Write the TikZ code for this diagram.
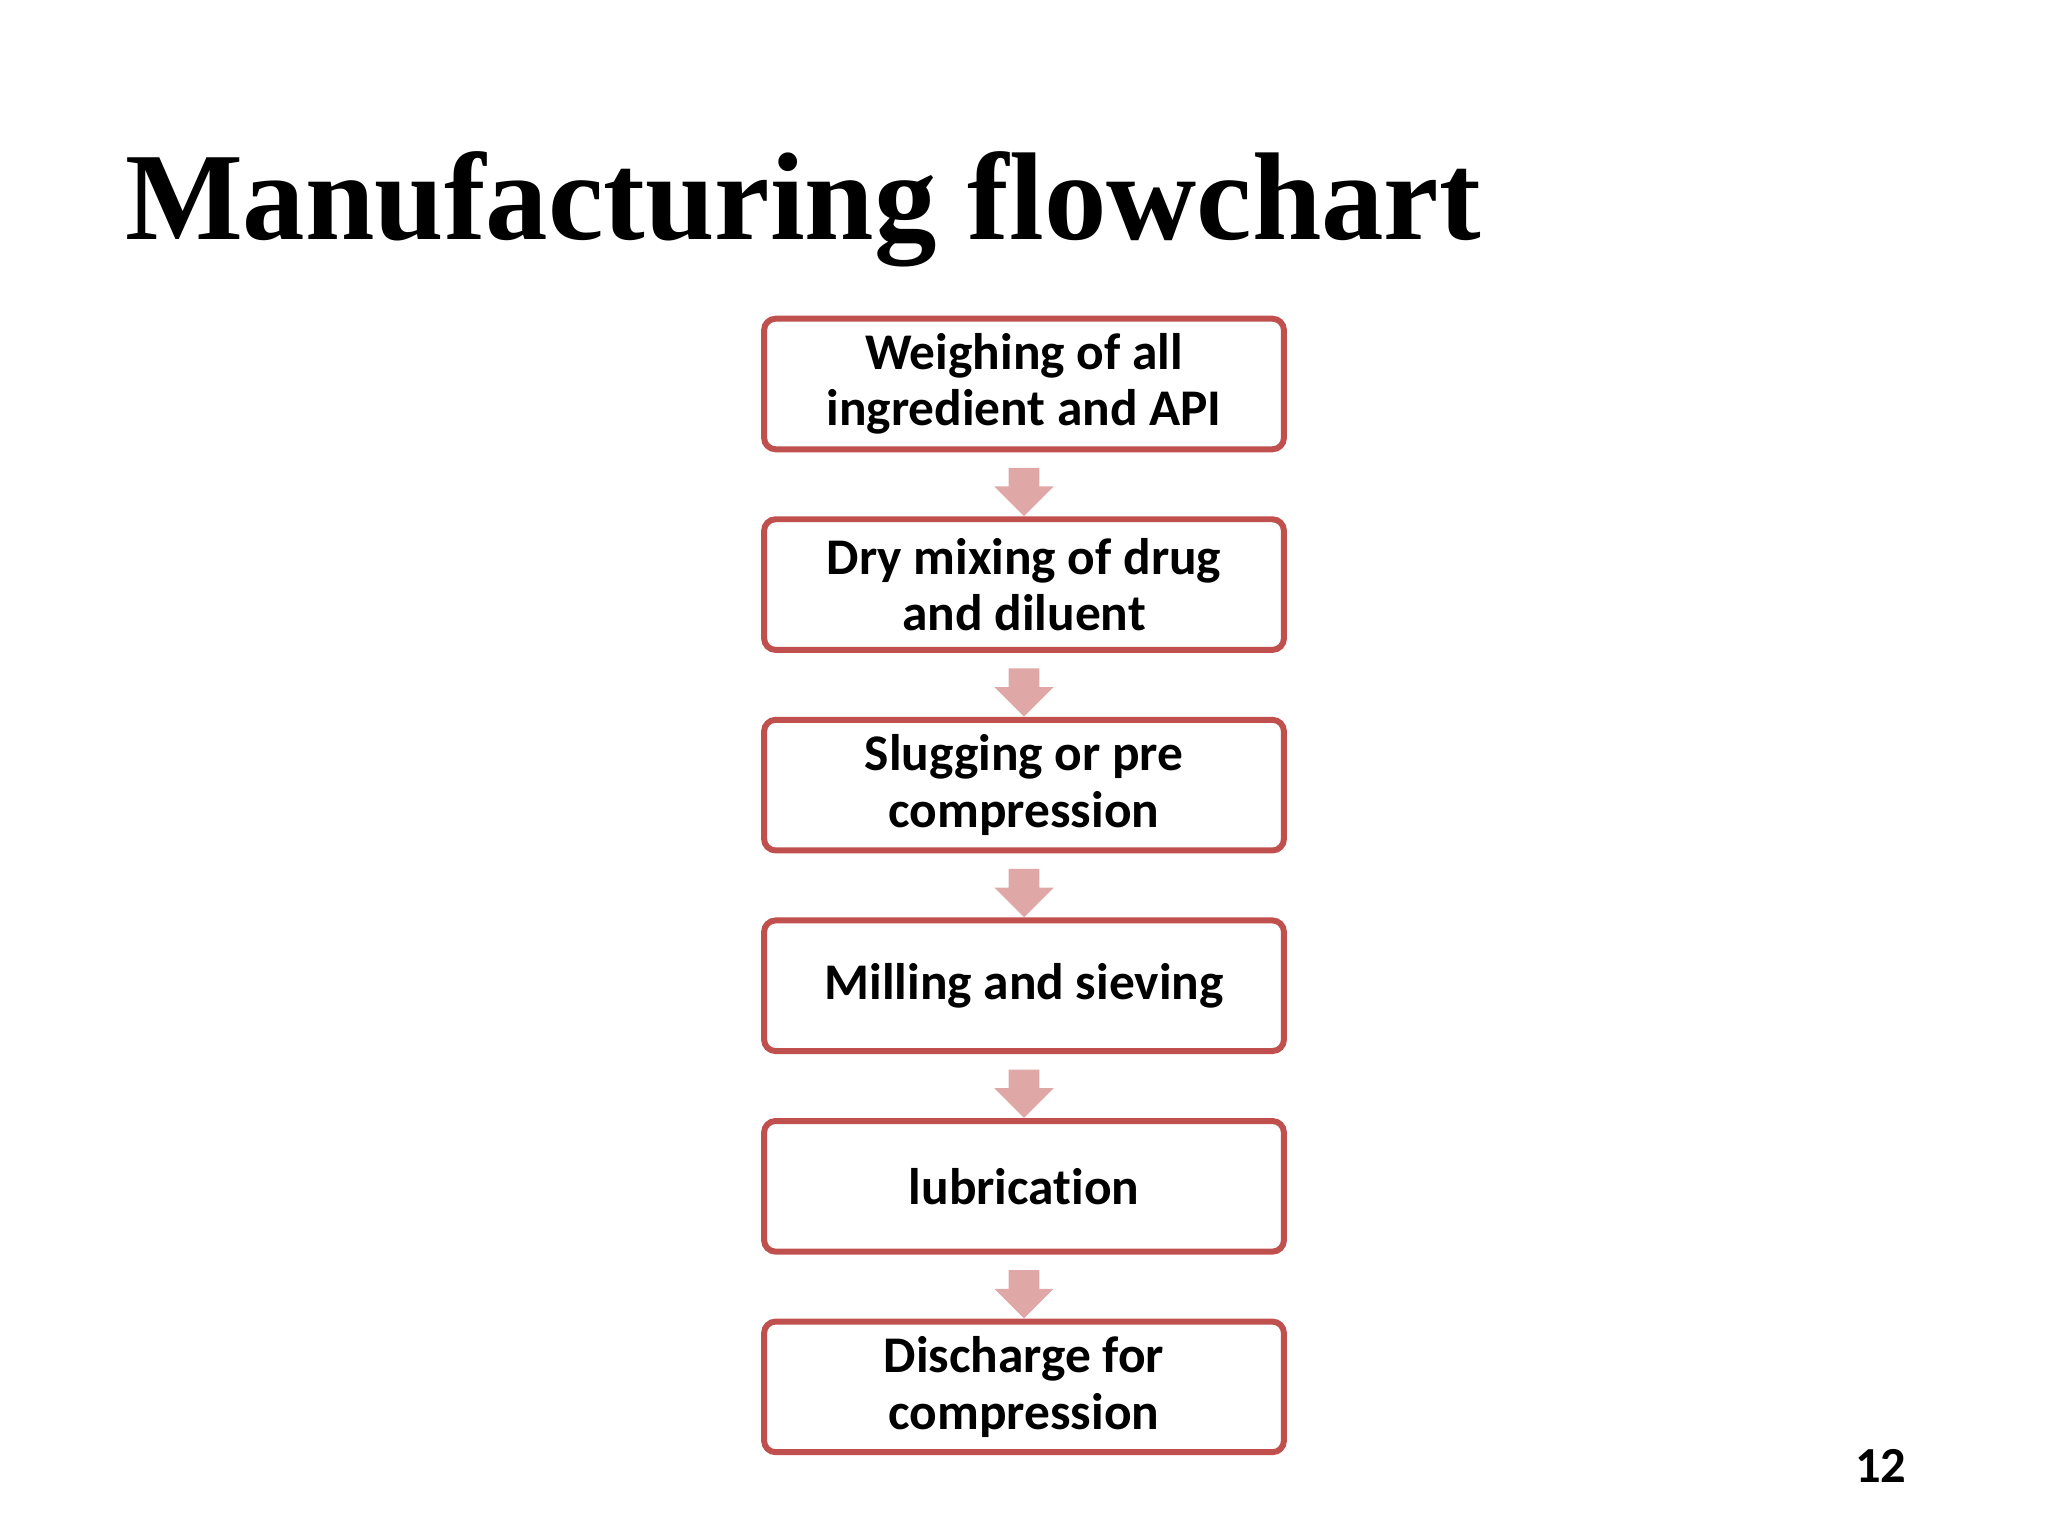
\documentclass[tikz,border=0pt]{standalone}
\usepackage{fontspec}
\setmainfont{Liberation Serif}
\newfontfamily\boxfont[RawFeature={-liga;-dlig}]{Carlito}
\usepackage{tikz}
\usetikzlibrary{positioning,shapes.arrows}
\definecolor{boxred}{RGB}{192,80,77}
\definecolor{arrowpink}{RGB}{223,167,166}
\tikzset{
  stepbox/.style={draw=boxred, line width=1.3pt, rounded corners=2.5pt, fill=white,
    minimum width=3.98cm, minimum height=1cm, inner sep=0.04cm, align=center,
    font=\boxfont\bfseries\fontsize{11.2}{12.3}\selectfont},
  downarrow/.style={single arrow, shape border rotate=270, fill=arrowpink, draw=none,
    inner sep=0.11cm, minimum width=0.44cm, minimum height=0.37cm,
    single arrow head extend=0.11cm}
}
\begin{document}
\begin{tikzpicture}
\useasboundingbox (0,0) rectangle (15.68,-11.76);

\node[anchor=base west, font=\bfseries\fontsize{27.2}{30}\selectfont, inner sep=0] (title) at (0.95,-1.83) {Manufacturing flowchart};

\node[stepbox] (weigh) at (7.84,-2.94) {Weighing of all\\ingredient and API};
\node[stepbox, below=0.49cm of weigh] (mix) {Dry mixing of drug\\and diluent};
\node[stepbox, below=0.49cm of mix] (slug) {Slugging or pre\\compression};
\node[stepbox, below=0.49cm of slug] (mill) {Milling and sieving};
\node[stepbox, below=0.49cm of mill] (lub) {lubrication};
\node[stepbox, below=0.49cm of lub] (disc) {Discharge for\\compression};

% block arrows between steps
\path (weigh.south) -- (mix.north) node[midway, downarrow] (a1) {};
\path (mix.south) -- (slug.north) node[midway, downarrow] (a2) {};
\path (slug.south) -- (mill.north) node[midway, downarrow] (a3) {};
\path (mill.south) -- (lub.north) node[midway, downarrow] (a4) {};
\path (lub.south) -- (disc.north) node[midway, downarrow] (a5) {};

\node[font=\boxfont\bfseries\fontsize{11}{12}\selectfont] (page) at (14.4,-11.22) {12};
\end{tikzpicture}
\end{document}
